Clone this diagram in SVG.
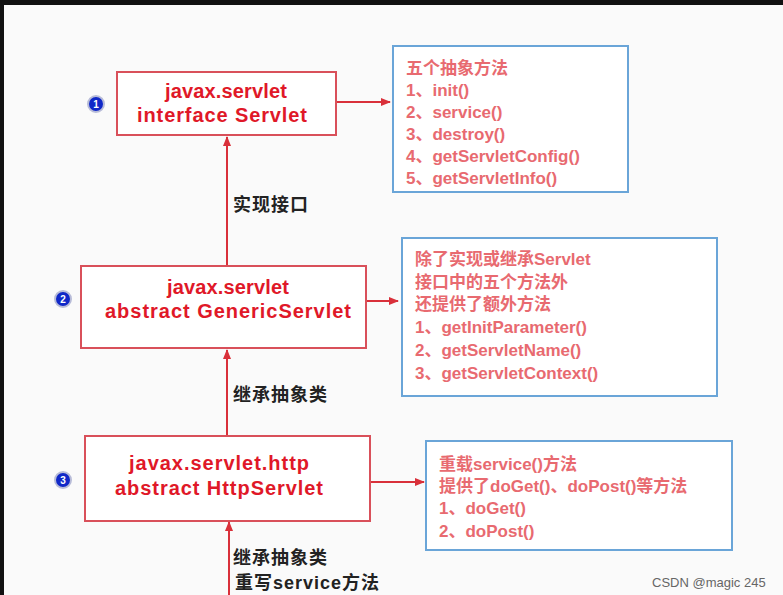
<svg xmlns="http://www.w3.org/2000/svg" width="783" height="595" viewBox="0 0 783 595">
<style>
.node{fill:#fff;stroke:#d9505a;stroke-width:2}
.info{fill:#fff;stroke:#6aa5d8;stroke-width:2}
.nt{font-family:"Liberation Sans",sans-serif;font-weight:bold;font-size:20px;fill:#e01828;text-anchor:middle}
.it{font-family:"Liberation Sans","Noto Sans CJK SC",sans-serif;font-size:17px;fill:#e86a70;font-weight:bold}
.lb{font-family:"Liberation Sans","Noto Sans CJK SC",sans-serif;font-weight:bold;font-size:18px;fill:#222;letter-spacing:1px}
.c{stroke:#d9303a;stroke-width:2;fill:none}
.num{fill:#1028c8;stroke:#b8bcd8;stroke-width:2}
.nn{font-family:"Liberation Sans",sans-serif;font-size:10px;fill:#fff;text-anchor:middle;font-weight:bold}
</style>
<defs><marker id="a" markerWidth="10" markerHeight="8" refX="9" refY="4" orient="auto" markerUnits="userSpaceOnUse"><path d="M0,0L10,4L0,8z" fill="#d9303a"/></marker></defs>
<rect width="783" height="595" fill="#111"/>
<rect x="4" y="5" width="779" height="590" fill="#fafafa"/>
<g id="connectors">
<path class="c" d="M227,266V137" marker-end="url(#a)"/>
<path class="c" d="M227,436V350" marker-end="url(#a)"/>
<path class="c" d="M229,595V522" marker-end="url(#a)"/>
<path class="c" d="M336,102H390" marker-end="url(#a)"/>
<path class="c" d="M366,301H398" marker-end="url(#a)"/>
<path class="c" d="M370,482H424" marker-end="url(#a)"/>
<text class="lb" x="233" y="211">实现接口</text>
<text class="lb" x="233" y="401">继承抽象类</text>
<text class="lb" x="233" y="564">继承抽象类</text>
<text class="lb" x="235" y="589">重写service方法</text>
</g>
<g id="n1"><rect class="node" x="117" y="72" width="219" height="63"/><circle class="num" cx="96" cy="104" r="8"/><text class="nn" x="96" y="108">1</text>
<text class="nt" x="226" y="98" textLength="122">javax.servlet</text><text class="nt" x="222" y="122" textLength="170">interface Servlet</text></g>
<g id="n2"><rect class="node" x="81" y="266" width="285" height="82"/><circle class="num" cx="63" cy="299" r="8"/><text class="nn" x="63" y="303">2</text><text class="nt" x="228" y="294" textLength="122">javax.servlet</text><text class="nt" x="228" y="318" textLength="246">abstract GenericServlet</text></g>
<g id="n3"><rect class="node" x="85" y="436" width="285" height="85"/><circle class="num" cx="63" cy="480" r="8"/><text class="nn" x="63" y="484">3</text><text class="nt" x="219" y="470" textLength="180">javax.servlet.http</text><text class="nt" x="219" y="495" textLength="208">abstract HttpServlet</text></g>
<g id="i1"><rect class="info" x="393" y="46" width="235" height="146"/>
<text class="it" x="406" y="74">五个抽象方法</text><text class="it" x="406" y="96">1、init()</text><text class="it" x="406" y="118">2、service()</text><text class="it" x="406" y="140">3、destroy()</text><text class="it" x="406" y="162">4、getServletConfig()</text><text class="it" x="406" y="184">5、getServletInfo()</text></g>
<g id="i2"><rect class="info" x="402" y="238" width="315" height="158"/>
<text class="it" x="415" y="265">除了实现或继承Servlet</text><text class="it" x="415" y="288">接口中的五个方法外</text><text class="it" x="415" y="310">还提供了额外方法</text><text class="it" x="415" y="333">1、getInitParameter()</text><text class="it" x="415" y="356">2、getServletName()</text><text class="it" x="415" y="379">3、getServletContext()</text></g>
<g id="i3"><rect class="info" x="426" y="441" width="306" height="109"/>
<text class="it" x="439" y="470">重载service()方法</text><text class="it" x="439" y="492">提供了doGet()、doPost()等方法</text><text class="it" x="439" y="514">1、doGet()</text><text class="it" x="439" y="537">2、doPost()</text></g>
<text x="652" y="587" font-family="Liberation Sans,sans-serif" font-size="13" fill="#666">CSDN @magic 245</text>
</svg>
